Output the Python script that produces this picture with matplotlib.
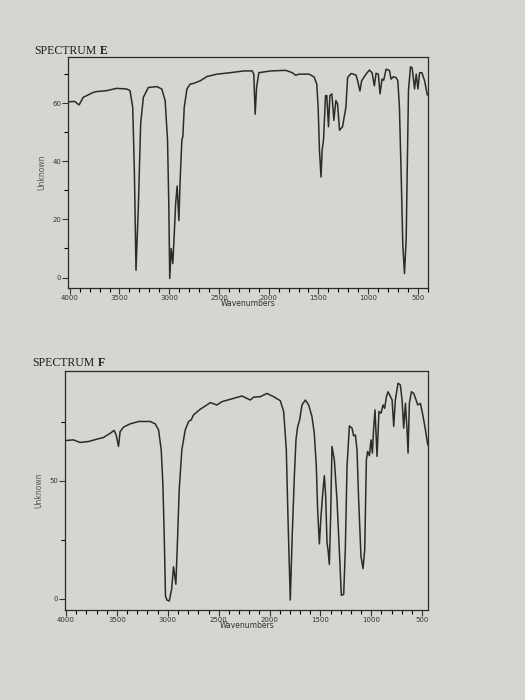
"""Dos espectros IR (E y F) tal como aparecen en la hoja escaneada."""
import matplotlib
matplotlib.use("Agg")
import matplotlib.pyplot as plt
from matplotlib.ticker import MultipleLocator

# Espectro E: numero de onda (cm-1) y valor leido
wn_e = [4000, 3950, 3906, 3865, 3765, 3730, 3630, 3530, 3428, 3394, 3367, 3350,
        3334, 3310, 3287, 3260, 3210, 3125, 3075, 3041, 3017, 3004, 2995, 2980,
        2964, 2950, 2935, 2920, 2903, 2890, 2873, 2863, 2849, 2822, 2789, 2755,
        2688, 2620, 2519, 2385, 2250, 2166, 2150, 2136, 2122, 2099, 1981, 1830,
        1762, 1729, 1695, 1644, 1594, 1543, 1517, 1503, 1490, 1474, 1463, 1449,
        1429, 1416, 1399, 1385, 1365, 1345, 1325, 1308, 1288, 1258, 1224, 1207,
        1173, 1123, 1106, 1083, 1066, 1022, 988, 961, 938, 921, 898, 881, 861,
        844, 820, 787, 770, 746, 719, 702, 686, 669, 652, 635, 618, 608, 595,
        575, 558, 534, 517, 500, 483, 460, 433, 406]
val_e = [60.5, 60.6, 59.4, 62.0, 63.7, 64.0, 64.3, 65.1, 64.9, 64.3, 58.6, 36.0,
         2.5, 24.7, 53.0, 62.0, 65.4, 65.7, 64.9, 60.9, 47.3, 24.7, -0.3, 10.0,
         4.8, 14.5, 25.8, 31.5, 19.6, 33.7, 47.3, 48.5, 58.6, 64.9, 66.6, 66.8,
         67.7, 69.2, 70.0, 70.5, 71.1, 71.1, 70.0, 56.2, 65.4, 70.5, 71.1, 71.3,
         70.5, 69.6, 70.0, 70.0, 70.0, 69.0, 66.6, 58.6, 43.9, 34.6, 43.9, 47.3,
         62.6, 62.6, 51.9, 62.6, 63.2, 54.1, 60.9, 59.8, 50.7, 51.9, 58.6, 68.8,
         70.2, 69.7, 67.7, 64.2, 67.7, 70.0, 71.4, 70.5, 66.0, 70.3, 70.0, 63.2,
         68.3, 67.9, 71.7, 71.3, 68.3, 69.1, 68.8, 67.7, 58.6, 36.0, 11.1, 1.4,
         13.4, 36.0, 64.3, 72.5, 72.2, 64.9, 70.0, 64.9, 70.5, 70.5, 67.7, 62.9]

# Espectro F
wn_f = [4010, 3928, 3862, 3780, 3698, 3633, 3567, 3528, 3508, 3485, 3469, 3436,
        3370, 3288, 3173, 3124, 3091, 3065, 3049, 3036, 3023, 3009, 2986, 2963,
        2944, 2921, 2908, 2888, 2862, 2829, 2796, 2770, 2747, 2681, 2616, 2583,
        2517, 2468, 2386, 2271, 2189, 2157, 2091, 2025, 1960, 1894, 1861, 1835,
        1819, 1796, 1776, 1756, 1740, 1724, 1704, 1681, 1648, 1615, 1583, 1560,
        1540, 1527, 1510, 1494, 1474, 1461, 1448, 1435, 1425, 1412, 1399, 1386,
        1363, 1337, 1314, 1294, 1271, 1255, 1238, 1215, 1189, 1173, 1156, 1140,
        1124, 1101, 1081, 1064, 1048, 1035, 1018, 1002, 989, 976, 963, 943, 924,
        904, 884, 868, 851, 835, 818, 795, 779, 763, 737, 714, 697, 681, 664,
        648, 638, 625, 605, 582, 559, 543, 517, 490, 467, 444]
val_f = [67.0, 67.3, 66.2, 66.6, 67.6, 68.3, 70.1, 71.3, 69.4, 64.5, 70.8, 72.7,
         74.1, 75.1, 75.1, 74.1, 71.5, 63.1, 49.0, 27.9, 1.1, -0.6, -1.0, 3.9,
         13.5, 6.1, 20.8, 46.2, 63.1, 71.5, 75.1, 75.8, 77.9, 80.3, 82.1, 83.1,
         82.1, 83.5, 84.5, 85.9, 84.2, 85.4, 85.6, 87.0, 85.6, 83.9, 79.3, 63.1,
         34.9, -0.6, 27.9, 51.8, 67.3, 72.7, 75.8, 82.1, 84.2, 82.1, 77.2, 70.1,
         56.1, 37.7, 23.2, 34.9, 46.2, 52.1, 43.4, 23.7, 20.8, 14.5, 34.9, 64.5,
         58.9, 42.0, 20.8, 1.4, 1.8, 20.8, 56.1, 73.2, 72.3, 69.0, 69.4, 63.1,
         42.0, 18.0, 12.7, 20.8, 58.9, 62.4, 60.6, 67.3, 61.7, 72.3, 80.0, 60.3,
         79.3, 78.6, 82.1, 80.7, 85.6, 87.7, 86.3, 84.2, 73.0, 84.2, 91.3, 90.6,
         84.2, 72.3, 82.8, 71.5, 61.7, 82.8, 87.7, 87.0, 84.2, 82.1, 82.8, 77.2,
         71.5, 65.2]

PAPEL = "#d7d5d2"
TINTA = "#2b2b2b"


def dibujar(ax, wn, val, xlim, ylim, y_major, y_minor):
    ax.set_facecolor(PAPEL)
    ax.plot(wn, val, color=TINTA, linewidth=1.1)
    ax.set_xlim(*xlim)
    ax.set_ylim(*ylim)
    ax.xaxis.set_major_locator(MultipleLocator(500))
    ax.xaxis.set_minor_locator(MultipleLocator(100))
    ax.yaxis.set_major_locator(MultipleLocator(y_major))
    ax.yaxis.set_minor_locator(MultipleLocator(y_minor))
    ax.tick_params(which="major", length=4, width=0.8, labelsize=5,
                   colors="#333333", pad=1)
    ax.tick_params(which="minor", length=3, width=0.8)
    for s in ax.spines.values():
        s.set_color(TINTA)
        s.set_linewidth(0.9)
    ax.set_xlabel("Wavenumbers", fontsize=5.5, color="#333333", labelpad=-1)
    ax.set_ylabel("Unknown", fontsize=5.5, color="#555555", labelpad=4)


def titulo(x, y, letra):
    t = fig.text(x, y, "SPECTRUM", fontsize=8.5, family="Liberation Serif",
                 color="#1e1e1e")
    # la letra (en negrita) va justo detras de "SPECTRUM"
    fig.axes[-1].annotate(letra, xy=(1, 0), xycoords=t, xytext=(2.5, 0),
                          textcoords="offset points", fontsize=8.5, va="bottom",
                          family="Liberation Serif", weight="bold",
                          color="#1e1e1e", annotation_clip=False)


fig = plt.figure(figsize=(5.25, 7), dpi=100, facecolor=PAPEL)

ax_e = fig.add_axes([0.130, 0.589, 0.685, 0.330])
dibujar(ax_e, wn_e, val_e, (4015, 400), (-3.5, 76), 20, 10)
titulo(0.065, 0.923, "E")

ax_f = fig.add_axes([0.124, 0.129, 0.692, 0.341])
dibujar(ax_f, wn_f, val_f, (4010, 438), (-4.7, 96.5), 50, 25)
titulo(0.061, 0.477, "F")

fig.savefig("out.png", dpi=100, facecolor=PAPEL)
